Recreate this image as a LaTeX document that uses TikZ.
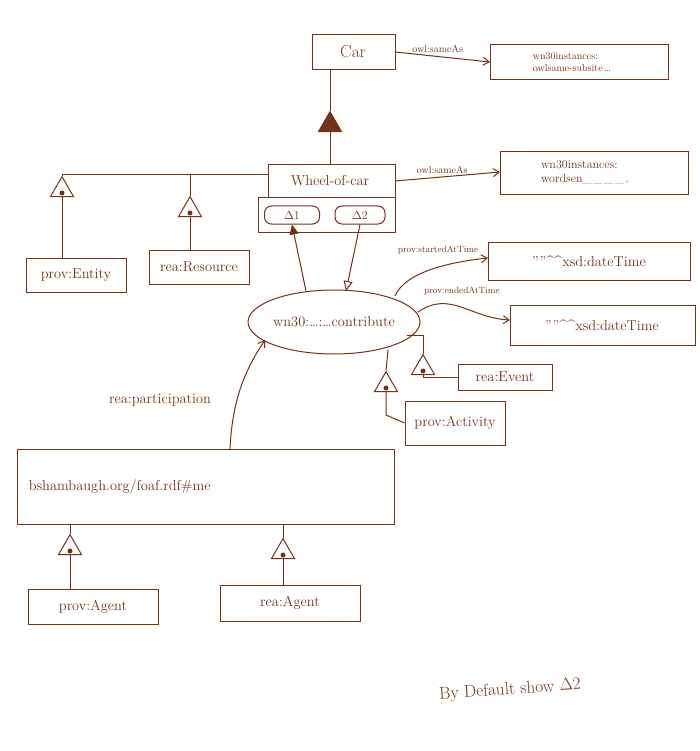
\documentclass[tikz,border=0pt]{standalone}
\usetikzlibrary{arrows.meta,shapes.geometric}
\begin{document}
\begin{tikzpicture}[x=1pt,y=-1pt,line width=1pt,
  ink/.style={draw=black!75!red!60!brown},
  box/.style={draw=black!75!red!60!brown,rectangle,inner sep=3pt},
  tri/.style={draw=black!75!red!60!brown,isosceles triangle,shape border rotate=90,isosceles triangle apex angle=60,minimum width=22pt,minimum height=20pt,inner sep=0pt},
  arr/.style={draw=black!75!red!60!brown,-{Straight Barb[length=6pt,width=8pt]}},
  lbl/.style={font=\normalsize,text=black!75!red!60!brown}]
\useasboundingbox (0,0) rectangle (700,751);
\fill[white] (0,0) rectangle (700,751);
\tikzset{every node/.style={text=black!75!red!60!brown}}
% boxes
\draw[ink] (312,35) rectangle (395,70); \node[font=\LARGE] (car) at (353,52) {Car};
\coordinate (care) at (395,52);
\draw[ink] (490,45) rectangle (668,80); \node[font=\normalsize,align=left] (inst1) at (572,62) {wn30instances:\\owlsame-subsite\,\dots};
\coordinate (inst1w) at (490,62);
\draw[ink] (268,165) rectangle (395,198); \node[font=\Large] (wheel) at (330,181) {Wheel-of-car};
\coordinate (wheele) at (395,181);
\draw[ink] (258,198) rectangle (395,232);
\node[draw=black!75!red!60!brown,rounded corners=7pt,minimum width=55pt,minimum height=18pt,inner sep=1pt,font=\large] (d1) at (292,215) {$\Delta$1};
\node[draw=black!75!red!60!brown,rounded corners=7pt,minimum width=50pt,minimum height=18pt,inner sep=1pt,font=\large] (d2) at (360,215) {$\Delta$2};
\draw[ink] (500,152) rectangle (688,195); \node[font=\large,align=left] (inst2) at (585,172) {wn30instances:\\wordsen\_\,\_\,\_\,\_\,.};
\coordinate (inst2w) at (500,172);
\draw[arr] (care) -- (inst1w) node[pos=0.45,above,lbl] {owl:sameAs};
\draw[arr] (wheele) -- (inst2w) node[pos=0.45,above,lbl] {owl:sameAs};
% subclass triangle
\node[tri,fill=black!75!red!60!brown] (sub) at (330,125) {};
\draw[ink] (sub.apex) -- (330,70); \draw[ink] (sub.south) -- (330,165);
% Entity / Resource
\node[box,minimum width=100pt,minimum height=34pt,font=\Large] (ent) at (76,275) {prov:Entity};
\node[box,minimum width=100pt,minimum height=34pt,font=\Large] (res) at (199,267) {rea:Resource};
\node[tri] (t1) at (62,190) {}; \fill[black!75!red!60!brown] (t1.center) ++(0,3) circle (2.5pt);
\node[tri] (t2) at (190,210) {}; \fill[black!75!red!60!brown] (t2.center) ++(0,3) circle (2.5pt);
\draw[ink] (268,175) -- (62,175) -- (t1.apex); \draw[ink] (t1.south) -- (ent.north -| t1.south);
\draw[ink] (190,175) -- (t2.apex); \draw[ink] (t2.south) -- (res.north -| t2.south);
% ellipse
\node[ellipse,draw=black!75!red!60!brown,minimum width=172pt,minimum height=64pt,font=\Large,inner sep=0pt] (act) at (334,322) {wn30:\dots:\dots contribute};
\coordinate (actn1) at (306,291);
\coordinate (actn2) at (346,291);
\draw[ink,-{Triangle[length=10pt,width=9pt]}] (actn1) -- (d1.south);
\draw[ink,-{Triangle[open,length=10pt,width=9pt]}] (d2.south) -- (actn2);
% dates
\draw[ink] (488,242) rectangle (690,280); \node[font=\Large] (st) at (589,261) {""\^{}\^{}xsd:dateTime};
\draw[ink] (510,305) rectangle (695,345); \node[font=\Large] (en) at (602,325) {""\^{}\^{}xsd:dateTime};
\coordinate (sts) at (395,296); \coordinate (stw) at (488,258);
\coordinate (ens) at (418,312); \coordinate (enw) at (510,320);
\draw[arr] (sts) .. controls (405,272) and (450,262) .. (stw);
\node[lbl,font=\small] at (438,250) {prov:startedAtTime};
\draw[arr] (ens) .. controls (450,290) and (470,318) .. (enw);
\node[lbl,font=\small] at (462,291) {prov:endedAtTime};
% Event / Activity
\node[box,minimum width=94pt,minimum height=26pt,font=\Large] (ev) at (505,377) {rea:Event};
\node[box,minimum width=100pt,minimum height=44pt,font=\Large] (pa) at (455,423) {prov:Activity};
\node[tri] (t3) at (423,368) {}; \fill[black!75!red!60!brown] (t3.center) ++(0,3) circle (2.5pt);
\node[tri] (t4) at (386,385) {}; \fill[black!75!red!60!brown] (t4.center) ++(0,3) circle (2.5pt);
\draw[ink] (407,335) -- (423,335) -- (t3.apex); \draw[ink] (t3.south) |- (ev.west);
\draw[ink] (388,350) -- (t4.apex); \draw[ink] (t4.south) -- (386,415) -- (pa.west);
% person
\node[box,minimum width=377pt,minimum height=75pt] (me) at (206,487) {};
\node[anchor=west,font=\Large] (mel) at (25,487) {bshambaugh.org/foaf.rdf\#me};
\coordinate (men) at (230,450);
\draw[arr] (men) .. controls (232,400) and (245,370) .. (265,340);
\node[lbl,font=\Large] at (160,400) {rea:participation};
% agents
\node[box,minimum width=130pt,minimum height=35pt,font=\Large] (pag) at (93,607) {prov:Agent};
\node[box,minimum width=140pt,minimum height=36pt,font=\Large] (rag) at (290,603) {rea:Agent};
\node[tri] (t5) at (70,548) {}; \fill[black!75!red!60!brown] (t5.center) ++(0,3) circle (2.5pt);
\node[tri] (t6) at (283,552) {}; \fill[black!75!red!60!brown] (t6.center) ++(0,3) circle (2.5pt);
\draw[ink] (t5.apex) -- (70,525); \draw[ink] (t5.south) -- (pag.north -| t5.south);
\draw[ink] (t6.apex) -- (283,525); \draw[ink] (t6.south) -- (rag.north -| t6.south);
\node[rotate=4,font=\LARGE] (note) at (510,690) {By Default show $\Delta$2};
\end{tikzpicture}
\end{document}
